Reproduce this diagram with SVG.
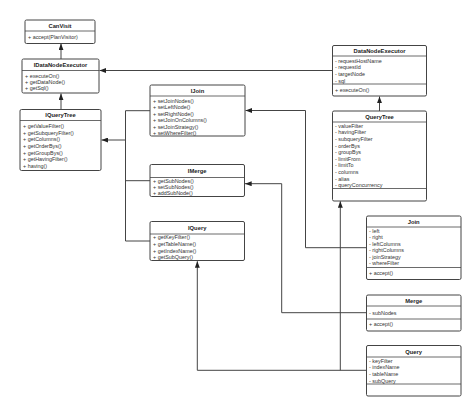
<svg xmlns="http://www.w3.org/2000/svg" width="474" height="409" viewBox="0 0 474 409">
<style>
.box{fill:#fff;stroke:#444;stroke-width:1}
.sep{stroke:#444;stroke-width:0.8}
.t{font-family:"Liberation Sans",Arial,sans-serif;font-size:5.8px;font-weight:bold;fill:#222;text-anchor:middle}
.i{font-family:"Liberation Sans",Arial,sans-serif;font-size:5.4px;fill:#333}
.c{fill:none;stroke:#444;stroke-width:1}
</style>
<defs>
<marker id="ah" viewBox="0 0 8 6" refX="8" refY="3" markerWidth="7" markerHeight="5" markerUnits="userSpaceOnUse" orient="auto">
<path d="M0,0 L8,3 L0,6 z" fill="#222"/>
</marker>
</defs>
<rect width="474" height="409" fill="#fff"/>
<g id="connectors">
<path class="c" d="M61,59 V43.5" marker-end="url(#ah)"/>
<path class="c" d="M61,109.5 V93.5" marker-end="url(#ah)"/>
<path class="c" d="M332.5,70.5 H99.5" marker-end="url(#ah)"/>
<path class="c" d="M379.5,111 V96.5" marker-end="url(#ah)"/>
<path class="c" d="M150,110.7 H125.5 V241 H150 M150,180.7 H125.5"/>
<path class="c" d="M125.5,140 H101.5" marker-end="url(#ah)"/>
<path class="c" d="M366.5,247.7 H305.5 V110.5 H245.5" marker-end="url(#ah)"/>
<path class="c" d="M366.5,312.7 H281.7 V183.7 H245" marker-end="url(#ah)"/>
<path class="c" d="M366.5,370.3 H197.3 V261.2" marker-end="url(#ah)"/>
<path class="c" d="M340.3,370.3 V201.2" marker-end="url(#ah)"/>
</g>
<g id="CanVisit">
<rect class="box" x="25" y="20" width="70" height="23.5" rx="1.5"/>
<line class="sep" x1="25" y1="31" x2="95" y2="31"/>
<text class="t" x="60" y="27.5">CanVisit</text>
<text class="i" x="28" y="39">+ accept(PlanVisitor)</text>
</g>
<g id="IDataNodeExecutor">
<rect class="box" x="22" y="59" width="77" height="34" rx="1.5"/>
<line class="sep" x1="22" y1="70.5" x2="99" y2="70.5"/>
<text class="t" x="60.5" y="66.8">IDataNodeExecutor</text>
<text class="i" x="25" y="77.6">+ executeOn()</text>
<text class="i" x="25" y="83.6">+ getDataNode()</text>
<text class="i" x="25" y="89.5">+ getSql()</text>
</g>
<g id="IQueryTree">
<rect class="box" x="20" y="109.5" width="81" height="61" rx="1.5"/>
<line class="sep" x1="20" y1="120.5" x2="101" y2="120.5"/>
<text class="t" x="60.5" y="117">IQueryTree</text>
<text class="i" x="23" y="127.8">+ getValueFilter()</text>
<text class="i" x="23" y="134.5">+ getSubqueryFilter()</text>
<text class="i" x="23" y="141.2">+ getColumns()</text>
<text class="i" x="23" y="147.9">+ getOrderBys()</text>
<text class="i" x="23" y="154.6">+ getGroupBys()</text>
<text class="i" x="23" y="161.3">+ getHavingFilter()</text>
<text class="i" x="23" y="168">+ having()</text>
</g>
<g id="IJoin">
<rect class="box" x="150" y="85" width="95" height="51" rx="1.5"/>
<line class="sep" x1="150" y1="96" x2="245" y2="96"/>
<text class="t" x="197.5" y="92.5">IJoin</text>
<text class="i" x="153" y="102.7">+ setJoinNodes()</text>
<text class="i" x="153" y="109.2">+ setLeftNode()</text>
<text class="i" x="153" y="115.7">+ setRightNode()</text>
<text class="i" x="153" y="122.2">+ setJoinOnColumns()</text>
<text class="i" x="153" y="128.7">+ setJoinStrategy()</text>
<text class="i" x="153" y="135.2">+ setWhereFilter()</text>
</g>
<g id="IMerge">
<rect class="box" x="150" y="164.5" width="94.5" height="32" rx="1.5"/>
<line class="sep" x1="150" y1="177.5" x2="244.5" y2="177.5"/>
<text class="t" x="197.2" y="173">IMerge</text>
<text class="i" x="153" y="182.7">+ getSubNodes()</text>
<text class="i" x="153" y="189">+ setSubNodes()</text>
<text class="i" x="153" y="195.3">+ addSubNode()</text>
</g>
<g id="IQuery">
<rect class="box" x="150" y="221.5" width="94.5" height="39" rx="1.5"/>
<line class="sep" x1="150" y1="234" x2="244.5" y2="234"/>
<text class="t" x="197.2" y="230">IQuery</text>
<text class="i" x="153" y="239.3">+ getKeyFilter()</text>
<text class="i" x="153" y="246">+ getTableName()</text>
<text class="i" x="153" y="252.7">+ getIndexName()</text>
<text class="i" x="153" y="259.3">+ getSubQuery()</text>
</g>
<g id="DataNodeExecutor">
<rect class="box" x="332.5" y="45.5" width="94" height="50.5" rx="1.5"/>
<line class="sep" x1="332.5" y1="56" x2="426.5" y2="56"/>
<line class="sep" x1="332.5" y1="84" x2="426.5" y2="84"/>
<text class="t" x="379.5" y="53">DataNodeExecutor</text>
<text class="i" x="335" y="62.7">- requestHostName</text>
<text class="i" x="335" y="69.3">- requestId</text>
<text class="i" x="335" y="76">- targetNode</text>
<text class="i" x="335" y="82.7">- sql</text>
<text class="i" x="335" y="92.2">+ executeOn()</text>
</g>
<g id="QueryTree">
<rect class="box" x="332.5" y="111" width="94" height="90" rx="1.5"/>
<line class="sep" x1="332.5" y1="122" x2="426.5" y2="122"/>
<line class="sep" x1="332.5" y1="188.5" x2="426.5" y2="188.5"/>
<text class="t" x="379.5" y="118.5">QueryTree</text>
<text class="i" x="335" y="127.7">- valueFilter</text>
<text class="i" x="335" y="134.3">- havingFilter</text>
<text class="i" x="335" y="140.9">- subqueryFilter</text>
<text class="i" x="335" y="147.5">- orderBys</text>
<text class="i" x="335" y="154.1">- groupBys</text>
<text class="i" x="335" y="160.7">- limitFrom</text>
<text class="i" x="335" y="167.3">- limitTo</text>
<text class="i" x="335" y="173.9">- columns</text>
<text class="i" x="335" y="180.5">- alias</text>
<text class="i" x="335" y="187.1">- queryConcurrency</text>
</g>
<g id="Join">
<rect class="box" x="366.5" y="216" width="94.5" height="63.5" rx="1.5"/>
<line class="sep" x1="366.5" y1="227" x2="461" y2="227"/>
<line class="sep" x1="366.5" y1="267.5" x2="461" y2="267.5"/>
<text class="t" x="413.7" y="223.5">Join</text>
<text class="i" x="369" y="232.7">- left</text>
<text class="i" x="369" y="239.2">- right</text>
<text class="i" x="369" y="245.7">- leftColumns</text>
<text class="i" x="369" y="252.2">- rightColumns</text>
<text class="i" x="369" y="258.7">- joinStrategy</text>
<text class="i" x="369" y="265.2">- whereFilter</text>
<text class="i" x="369" y="274.7">+ accept()</text>
</g>
<g id="Merge">
<rect class="box" x="366.5" y="295" width="94.5" height="36" rx="1.5"/>
<line class="sep" x1="366.5" y1="306" x2="461" y2="306"/>
<line class="sep" x1="366.5" y1="319" x2="461" y2="319"/>
<text class="t" x="413.7" y="302.5">Merge</text>
<text class="i" x="369" y="315.3">- subNodes</text>
<text class="i" x="369" y="326">+ accept()</text>
</g>
<g id="Query">
<rect class="box" x="366.5" y="345.5" width="94.5" height="50.5" rx="1.5"/>
<line class="sep" x1="366.5" y1="357" x2="461" y2="357"/>
<line class="sep" x1="366.5" y1="384" x2="461" y2="384"/>
<text class="t" x="413.7" y="353.5">Query</text>
<text class="i" x="369" y="362.7">- keyFilter</text>
<text class="i" x="369" y="369.3">- indexName</text>
<text class="i" x="369" y="376">- tableName</text>
<text class="i" x="369" y="382.5">- subQuery</text>
</g>
</svg>
